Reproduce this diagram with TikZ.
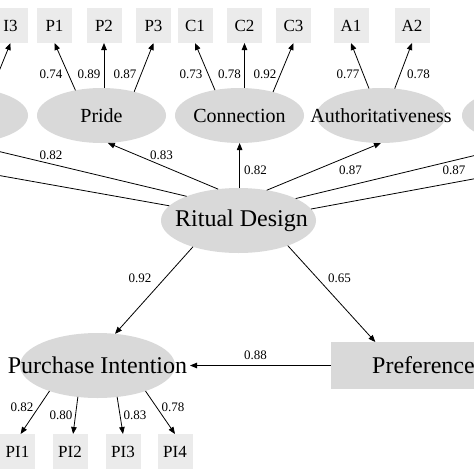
\documentclass[tikz,border=0pt]{standalone}
\usepackage{fontspec}
\setmainfont{Liberation Serif}
\usetikzlibrary{arrows.meta,calc,shapes.geometric}
\definecolor{ellgray}{RGB}{217,217,217}
\definecolor{boxgray}{RGB}{235,235,235}
\begin{document}
\begin{tikzpicture}[x=1pt,y=-1pt,
  lat/.style={ellipse, fill=ellgray, minimum width=129pt, minimum height=55pt, inner sep=0pt, outer sep=0pt, font=\fontsize{20}{24}\selectfont},
  big/.style={ellipse, fill=ellgray, minimum width=155pt, minimum height=65pt, inner sep=0pt, outer sep=0pt, font=\fontsize{24}{28}\selectfont},
  ind/.style={rectangle, fill=boxgray, minimum width=35pt, minimum height=35pt, inner sep=0pt, outer sep=0pt, font=\fontsize{17}{20}\selectfont},
  lbl/.style={inner sep=0pt, font=\fontsize{13}{15}\selectfont},
  arr/.style={draw, line width=0.8pt, -{Triangle[length=7pt,width=5.5pt]}},
]
\useasboundingbox (0,0) rectangle (474,474);
\clip (0,0) rectangle (474,474);
\fill[white] (0,0) rectangle (474,474);

% latent ellipses
\node[lat] (lefte) at (-36.5,115.5) {};
\node[lat] (pride) at (101.5,115.5) {\makebox[0pt]{Pride}};
\node[lat] (conn) at (239.5,115.5) {\makebox[0pt]{Connection}};
\node[lat] (auth) at (381,115.5) {\makebox[0pt]{Authoritativeness}};
\node[lat] (righte) at (526.5,115.5) {};
\node[big] (rit) at (238.5,220.5) {\makebox[0pt]{\hspace{6pt}Ritual Design}};
\node[big] (pi) at (97.5,365.5) {\makebox[0pt]{Purchase Intention}};
\node[rectangle, fill=ellgray, minimum width=185pt, minimum height=47pt, inner sep=0pt, outer sep=0pt, font=\fontsize{24}{28}\selectfont] (pref) at (423.5,365.5) {Preference};

% indicator boxes
\node[ind] (i3) at (10.5,25.5) {I3};
\node[ind] (p1) at (54.5,25.5) {P1};
\node[ind] (p2) at (104,25.5) {P2};
\node[ind] (p3) at (153.5,25.5) {P3};
\node[ind] (c1) at (195,25.5) {C1};
\node[ind] (c2) at (244.5,25.5) {C2};
\node[ind] (c3) at (293.5,25.5) {C3};
\node[ind] (a1) at (351,25.5) {A1};
\node[ind] (a2) at (412,25.5) {A2};
\node[ind] (pi1) at (17.5,451.5) {PI1};
\node[ind] (pi2) at (70,451.5) {PI2};
\node[ind] (pi3) at (123,451.5) {PI3};
\node[ind] (pi4) at (175,451.5) {PI4};

\coordinate (offL) at (-200,140);
\coordinate (offR) at (700,137);

% measurement arrows
\draw[arr] (lefte.42) -- (i3.south);
\draw[arr] (pride.136) -- (p1.south);
\draw[arr] (p2.south |- pride.north) -- (p2.south);
\draw[arr] (pride.36) -- (p3.south);
\draw[arr] (conn.134) -- (c1.south);
\draw[arr] (c2.south |- conn.north) -- (c2.south);
\draw[arr] (conn.35) -- (c3.south);
\draw[arr] (auth.114) -- (a1.south);
\draw[arr] (auth.63) -- (a2.south);

% structural arrows
\draw[arr] (rit.123) -- (pride.283);
\draw[arr] (rit.88) -- (rit.88 |- conn.south);
\draw[arr] (rit.47) -- (auth.south);
\draw[arr] (rit.155) -- (lefte.south);
\draw[arr] (rit.168) -- (offL);
\draw[arr] (rit.21) -- (righte.south);
\draw[arr] (rit.9) -- (offR);
\draw[arr] (rit.210) -- (pi.61);
\draw[arr] (rit.333) -- (pref.154);
\draw[arr] (pref.west) -- ($(pi.east)+(15,0)$);

\draw[arr] (pi.208) -- (pi1.80);
\draw[arr] (pi.238) -- (pi2.80);
\draw[arr] (pi.302) -- (pi3.north);
\draw[arr] (pi.332) -- (pi4.north);

% labels
\node[lbl] (t1) at (51,74.5) {0.74};
\node[lbl] (t2) at (89,74.5) {0.89};
\node[lbl] (t3) at (125,74.5) {0.87};
\node[lbl] (t4) at (191,74.5) {0.73};
\node[lbl] (t5) at (229.5,74.5) {0.78};
\node[lbl] (t6) at (265,74.5) {0.92};
\node[lbl] (t7) at (348,74.5) {0.77};
\node[lbl] (t8) at (418.5,74.5) {0.78};
\node[lbl] (s1) at (51,155.5) {0.82};
\node[lbl] (s2) at (161.5,155.5) {0.83};
\node[lbl] (s3) at (255.5,170.5) {0.82};
\node[lbl] (s4) at (350.5,170.5) {0.87};
\node[lbl] (s5) at (454,170.5) {0.87};
\node[lbl] (s6) at (140,278) {0.92};
\node[lbl] (s7) at (339.5,278) {0.65};
\node[lbl] (s8) at (255.5,355) {0.88};
\node[lbl] (u1) at (22,407) {0.82};
\node[lbl] (u2) at (61,415) {0.80};
\node[lbl] (u3) at (135,415) {0.83};
\node[lbl] (u4) at (173,407) {0.78};
\end{tikzpicture}
\end{document}
